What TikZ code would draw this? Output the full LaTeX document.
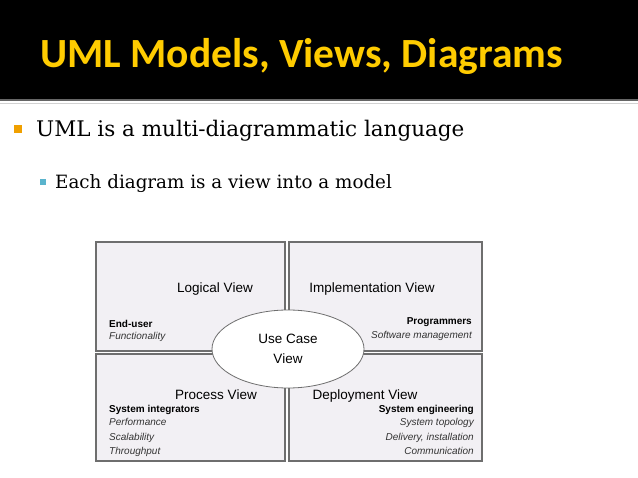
\documentclass[tikz,border=0pt]{standalone}
\usepackage{fontspec}
\setmainfont{DejaVu Serif}
\setsansfont{Liberation Sans}
\newfontfamily\titlefont{Carlito}
\usepackage{xcolor}
\usetikzlibrary{shapes.geometric}
\definecolor{titleyellow}{RGB}{255,204,0}
\definecolor{bulletorange}{RGB}{240,160,0}
\definecolor{bulletblue}{RGB}{90,180,205}
\definecolor{viewfill}{RGB}{242,240,244}
\definecolor{viewedge}{RGB}{110,110,110}
\tikzset{
  viewbox/.style={draw=viewedge,line width=1.3pt,fill=viewfill},
  viewname/.style={font=\sffamily\fontsize{13.5}{14}\selectfont,anchor=base,inner sep=0pt},
  who/.style={font=\sffamily\bfseries\fontsize{10}{11}\selectfont,inner sep=0pt},
  what/.style={font=\sffamily\itshape\fontsize{10}{11}\selectfont,inner sep=0pt,text=black!80}
}

\begin{document}
\begin{tikzpicture}[x=1pt,y=-1pt]
  \useasboundingbox (0,0) rectangle (638,478);
  % title bar
  \fill[black] (0,0) rectangle (638,99);
  \draw[gray!80!black,line width=1.5pt] (0,100)--(638,100);
  \draw[gray!35,line width=1.5pt] (0,103.5)--(638,103.5);
  \node[anchor=base west,inner sep=0pt,text=titleyellow,font=\titlefont\bfseries\fontsize{41.5}{42}\selectfont] (title) at (40,68) {UML Models, Views, Diagrams};
  % bullets
  \fill[bulletorange] (14,125) rectangle (22,133);
  \node[anchor=base west,inner sep=0pt,font=\fontsize{21.5}{22}\selectfont] (lang) at (36,137) {UML is a multi-diagrammatic language};
  \fill[bulletblue] (40,179) rectangle (46,185);
  \node[anchor=base west,inner sep=0pt,font=\fontsize{18.3}{19}\selectfont] (each) at (55,189) {Each diagram is a view into a model};
  % the four views
  \draw[viewbox] (96,242) rectangle (285,351);
  \draw[viewbox] (289,242) rectangle (482,351);
  \draw[viewbox] (96,354) rectangle (285,461);
  \draw[viewbox] (289,354) rectangle (482,461);
  \node[viewname] (logical) at (215,293) {Logical View};
  \node[viewname] (impl) at (372,293) {Implementation View};
  \node[viewname] (process) at (216,400) {Process View};
  \node[viewname] (deploy) at (365,400) {Deployment View};
  \node[who,anchor=base west] (enduser) at (109,328) {End-user};
  \node[what,anchor=base west] (func) at (109,340) {Functionality};
  \node[who,anchor=base east] (prog) at (472,325) {Programmers};
  \node[what,anchor=base east] (swman) at (472,339) {Software management};
  \node[who,anchor=base west] (integ) at (109,413) {System integrators};
  \node[what,anchor=base west] (perf) at (109,426) {Performance};
  \node[what,anchor=base west] (scal) at (109,441) {Scalability};
  \node[what,anchor=base west] (thru) at (109,455) {Throughput};
  \node[who,anchor=base east] (syseng) at (474,413) {System engineering};
  \node[what,anchor=base east] (topo) at (474,426) {System topology};
  \node[what,anchor=base east] (deliv) at (474,441) {Delivery, installation};
  \node[what,anchor=base east] (comm) at (474,455) {Communication};
  % use case view in the middle
  \node[ellipse,draw=viewedge,line width=0.8pt,fill=white,minimum width=152pt,minimum height=78pt,inner sep=0pt,
        align=center,font=\sffamily\fontsize{13.5}{20}\selectfont] (usecase) at (288,349) {Use Case\\View};
\end{tikzpicture}
\end{document}
